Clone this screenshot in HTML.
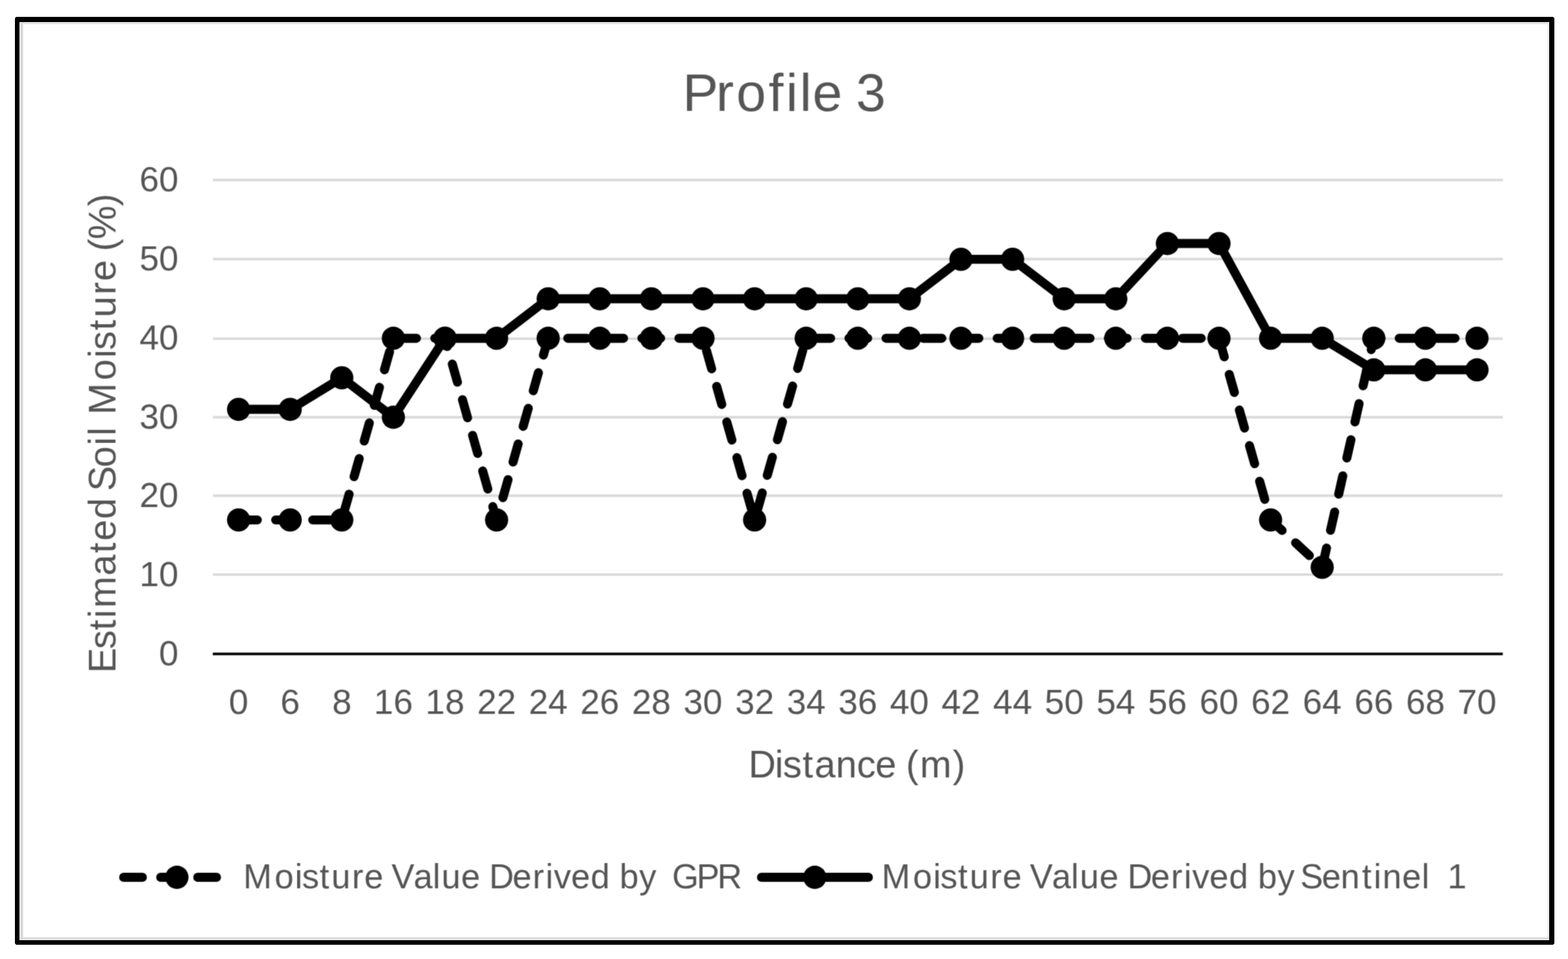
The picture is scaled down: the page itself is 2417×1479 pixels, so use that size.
<!DOCTYPE html>
<html lang="en"><head><meta charset="utf-8"><title>Profile 3</title>
<style>
html,body{margin:0;padding:0;background:#fff;}
body{width:2417px;height:1479px;overflow:hidden;}
svg{display:block;}
text{font-family:"Liberation Sans",sans-serif;fill:#555555;white-space:pre;}
</style></head><body>
<svg width="2417" height="1479" viewBox="0 0 2417 1479">
<rect x="0" y="0" width="2417" height="1479" fill="#fff"/>
<defs><filter id="soft" x="0" y="0" width="2417" height="1479" filterUnits="userSpaceOnUse" color-interpolation-filters="sRGB"><feConvolveMatrix order="3" kernelMatrix="0.0439 0.1217 0.0439 0.1217 0.3377 0.1217 0.0439 0.1217 0.0439" edgeMode="duplicate" preserveAlpha="false"/></filter></defs>
<g filter="url(#soft)">
<g fill="none">
<line x1="33.2" x2="33.2" y1="34" y2="1450" stroke="#d6d6d6" stroke-width="4.4"/>
<line x1="30" x2="2388" y1="35.7" y2="35.7" stroke="#dcdcdc" stroke-width="2.8"/>
<line x1="2386.7" x2="2386.7" y1="34" y2="1450" stroke="#ebebeb" stroke-width="2.6"/>
<line x1="30" x2="2388" y1="1447.4" y2="1447.4" stroke="#dadada" stroke-width="3.8"/>
</g>
<line x1="328.3" x2="2316.5" y1="277.7" y2="277.7" stroke="#d9d9d9" stroke-width="3.8"/>
<line x1="328.3" x2="2316.5" y1="399.5" y2="399.5" stroke="#d9d9d9" stroke-width="3.8"/>
<line x1="328.3" x2="2316.5" y1="522.3" y2="522.3" stroke="#d9d9d9" stroke-width="3.8"/>
<line x1="328.3" x2="2316.5" y1="643.5" y2="643.5" stroke="#d9d9d9" stroke-width="3.8"/>
<line x1="328.3" x2="2316.5" y1="764.5" y2="764.5" stroke="#d9d9d9" stroke-width="3.8"/>
<line x1="328.3" x2="2316.5" y1="886.2" y2="886.2" stroke="#d9d9d9" stroke-width="3.8"/>
<line x1="328.0" x2="2316.5" y1="1008.50" y2="1008.50" stroke="#000" stroke-width="4.0"/>
<text xml:space="preserve" x="1052.3 1103.8 1134.9 1184.7 1211.6 1232.7 1252.4 1297.1 1319.4" y="171.0" font-size="82.34">Profile 3</text>
<text xml:space="preserve" x="1153.8 1194.6 1206.7 1236.9 1255.4 1288.2 1320.8 1349.2 1380.9 1396.6 1418.0 1468.6" y="1199.2" font-size="58.44">Distance (m)</text>
<g transform="translate(177.6 1033.5) rotate(-90)">
<text xml:space="preserve" x="-4.6 32.5 61.6 80.3 96.0 145.8 180.5 199.6 233.0 265.7 276.1 312.7 346.6 361.6 374.8 393.9 447.1 481.6 493.7 523.9 543.9 579.0 600.1 631.8 646.1 664.5 715.4" y="0.0" font-size="58.44">Estimated Soil Moisture (%)</text>
</g>
<g font-size="54.00" text-anchor="end">
<text x="275.0" y="1026.0">0</text>
<text x="275.0" y="904.2">10</text>
<text x="275.0" y="782.4">20</text>
<text x="275.0" y="660.6">30</text>
<text x="275.0" y="538.8">40</text>
<text x="275.0" y="417.0">50</text>
<text x="275.0" y="295.2">60</text>
</g>
<g font-size="54.00" text-anchor="middle">
<text x="367.8" y="1101.4">0</text>
<text x="447.3" y="1101.4">6</text>
<text x="526.9" y="1101.4">8</text>
<text x="606.4" y="1101.4">16</text>
<text x="685.9" y="1101.4">18</text>
<text x="765.5" y="1101.4">22</text>
<text x="845.0" y="1101.4">24</text>
<text x="924.6" y="1101.4">26</text>
<text x="1004.1" y="1101.4">28</text>
<text x="1083.6" y="1101.4">30</text>
<text x="1163.2" y="1101.4">32</text>
<text x="1242.7" y="1101.4">34</text>
<text x="1322.2" y="1101.4">36</text>
<text x="1401.8" y="1101.4">40</text>
<text x="1481.3" y="1101.4">42</text>
<text x="1560.9" y="1101.4">44</text>
<text x="1640.4" y="1101.4">50</text>
<text x="1720.0" y="1101.4">54</text>
<text x="1799.5" y="1101.4">56</text>
<text x="1879.0" y="1101.4">60</text>
<text x="1958.6" y="1101.4">62</text>
<text x="2038.1" y="1101.4">64</text>
<text x="2117.7" y="1101.4">66</text>
<text x="2197.2" y="1101.4">68</text>
<text x="2276.7" y="1101.4">70</text>
</g>
<polyline points="367.77,801.84 447.31,801.84 526.85,801.84 606.39,521.70 685.93,521.70 765.47,801.84 845.01,521.70 924.55,521.70 1004.09,521.70 1083.63,521.70 1163.17,801.84 1242.71,521.70 1322.25,521.70 1401.79,521.70 1481.33,521.70 1560.87,521.70 1640.41,521.70 1719.95,521.70 1799.49,521.70 1879.03,521.70 1958.57,801.84 2038.11,874.92 2117.65,521.70 2197.19,521.70 2276.73,521.70" fill="none" stroke="#000" stroke-width="13.90" stroke-linecap="round" stroke-linejoin="round" stroke-dasharray="28.940 28.180"/>
<g fill="#000">
<circle cx="367.77" cy="801.84" r="17.9"/>
<circle cx="447.31" cy="801.84" r="17.9"/>
<circle cx="526.85" cy="801.84" r="17.9"/>
<circle cx="606.39" cy="521.70" r="17.9"/>
<circle cx="685.93" cy="521.70" r="17.9"/>
<circle cx="765.47" cy="801.84" r="17.9"/>
<circle cx="845.01" cy="521.70" r="17.9"/>
<circle cx="924.55" cy="521.70" r="17.9"/>
<circle cx="1004.09" cy="521.70" r="17.9"/>
<circle cx="1083.63" cy="521.70" r="17.9"/>
<circle cx="1163.17" cy="801.84" r="17.9"/>
<circle cx="1242.71" cy="521.70" r="17.9"/>
<circle cx="1322.25" cy="521.70" r="17.9"/>
<circle cx="1401.79" cy="521.70" r="17.9"/>
<circle cx="1481.33" cy="521.70" r="17.9"/>
<circle cx="1560.87" cy="521.70" r="17.9"/>
<circle cx="1640.41" cy="521.70" r="17.9"/>
<circle cx="1719.95" cy="521.70" r="17.9"/>
<circle cx="1799.49" cy="521.70" r="17.9"/>
<circle cx="1879.03" cy="521.70" r="17.9"/>
<circle cx="1958.57" cy="801.84" r="17.9"/>
<circle cx="2038.11" cy="874.92" r="17.9"/>
<circle cx="2117.65" cy="521.70" r="17.9"/>
<circle cx="2197.19" cy="521.70" r="17.9"/>
<circle cx="2276.73" cy="521.70" r="17.9"/>
</g>
<polyline points="367.77,631.32 447.31,631.32 526.85,582.60 606.39,643.50 685.93,521.70 765.47,521.70 845.01,460.80 924.55,460.80 1004.09,460.80 1083.63,460.80 1163.17,460.80 1242.71,460.80 1322.25,460.80 1401.79,460.80 1481.33,399.90 1560.87,399.90 1640.41,460.80 1719.95,460.80 1799.49,375.54 1879.03,375.54 1958.57,521.70 2038.11,521.70 2117.65,570.42 2197.19,570.42 2276.73,570.42" fill="none" stroke="#000" stroke-width="13.90" stroke-linecap="round" stroke-linejoin="round"/>
<g fill="#000">
<circle cx="367.77" cy="631.32" r="17.9"/>
<circle cx="447.31" cy="631.32" r="17.9"/>
<circle cx="526.85" cy="582.60" r="17.9"/>
<circle cx="606.39" cy="643.50" r="17.9"/>
<circle cx="685.93" cy="521.70" r="17.9"/>
<circle cx="765.47" cy="521.70" r="17.9"/>
<circle cx="845.01" cy="460.80" r="17.9"/>
<circle cx="924.55" cy="460.80" r="17.9"/>
<circle cx="1004.09" cy="460.80" r="17.9"/>
<circle cx="1083.63" cy="460.80" r="17.9"/>
<circle cx="1163.17" cy="460.80" r="17.9"/>
<circle cx="1242.71" cy="460.80" r="17.9"/>
<circle cx="1322.25" cy="460.80" r="17.9"/>
<circle cx="1401.79" cy="460.80" r="17.9"/>
<circle cx="1481.33" cy="399.90" r="17.9"/>
<circle cx="1560.87" cy="399.90" r="17.9"/>
<circle cx="1640.41" cy="460.80" r="17.9"/>
<circle cx="1719.95" cy="460.80" r="17.9"/>
<circle cx="1799.49" cy="375.54" r="17.9"/>
<circle cx="1879.03" cy="375.54" r="17.9"/>
<circle cx="1958.57" cy="521.70" r="17.9"/>
<circle cx="2038.11" cy="521.70" r="17.9"/>
<circle cx="2117.65" cy="570.42" r="17.9"/>
<circle cx="2197.19" cy="570.42" r="17.9"/>
<circle cx="2276.73" cy="570.42" r="17.9"/>
</g>
<line x1="190.55" x2="355.45" y1="1353.0" y2="1353.0" stroke="#000" stroke-width="13.90" stroke-linecap="round" stroke-dasharray="28.940 28.180"/>
<circle cx="272.7" cy="1353.0" r="17.9" fill="#000"/>
<text xml:space="preserve" x="375.0 423.2 454.4 465.4 492.7 510.8 542.5 561.6 590.4 603.4 637.5 667.1 680.6 710.8 739.6 754.0 790.0 820.9 840.9 853.7 880.2 910.5 940.0 954.9 985.3 1011.2 1024.6 1035.9 1073.7 1105.7" y="1370.3" font-size="52.89">Moisture Value Derived by  GPR</text>
<line x1="1173.75" x2="1338.65" y1="1353.0" y2="1353.0" stroke="#000" stroke-width="13.90" stroke-linecap="round"/>
<circle cx="1256.0" cy="1353.0" r="17.9" fill="#000"/>
<text xml:space="preserve" x="1359.0 1407.2 1438.4 1449.4 1476.7 1494.8 1526.5 1545.6 1574.4 1587.4 1621.5 1651.1 1664.6 1694.8 1723.6 1738.0 1774.0 1804.9 1824.9 1837.7 1864.2 1894.5 1924.0 1938.9 1969.3 1995.2 2004.2 2037.4 2066.6 2099.4 2117.5 2131.0 2161.2 2191.6 2203.5 2216.9 2231.2" y="1370.3" font-size="52.89">Moisture Value Derived by Sentinel  1</text>
</g>
<path fill="#000" fill-rule="evenodd" d="M25 26H2394L2396 28V1455L2394 1457H25L23 1455V28ZM30 34V1450H2388V34Z"/>
</svg>
</body></html>
